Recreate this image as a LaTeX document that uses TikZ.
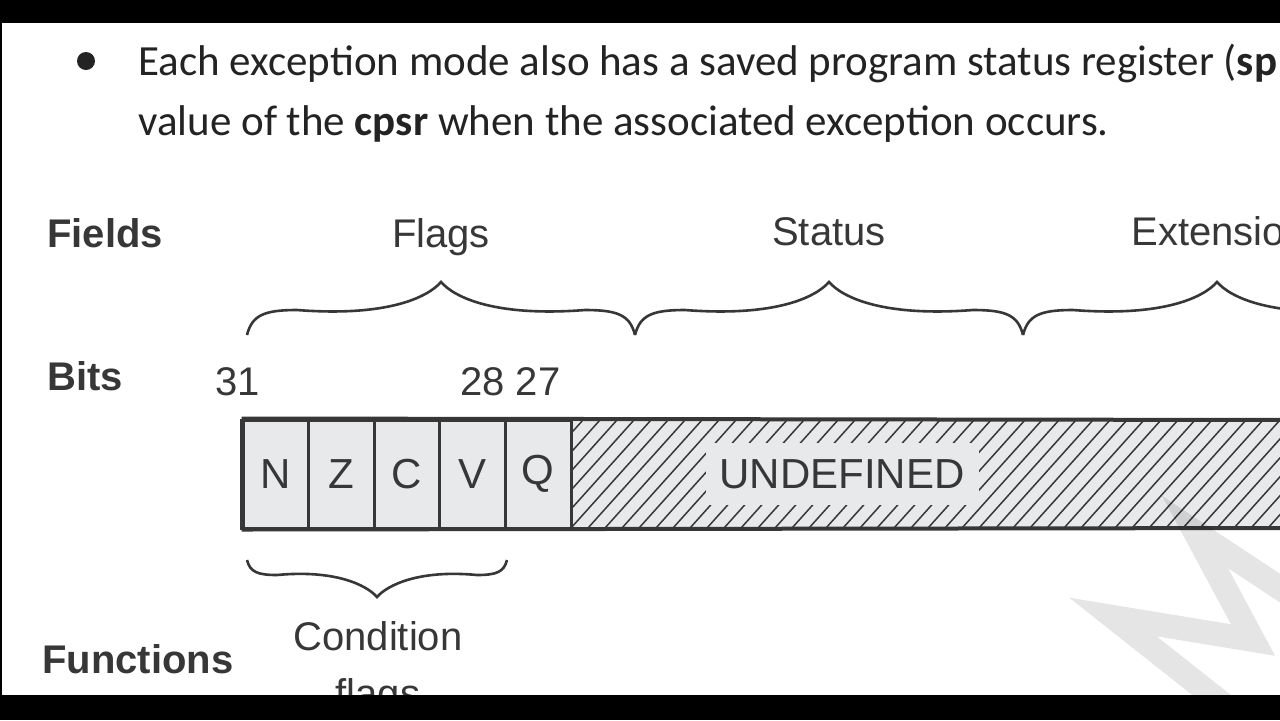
\documentclass[tikz,border=0pt]{standalone}
\usepackage{fontspec}
\setmainfont{Liberation Sans}
\newfontfamily\slidefont{Carlito}
\usetikzlibrary{positioning}
\definecolor{cellgray}{RGB}{232,233,235}
\definecolor{inkgray}{RGB}{55,55,55}
\definecolor{slideink}{RGB}{35,35,35}
\newcommand*{\diagfont}{\fontsize{20}{28.5}\selectfont\color{inkgray}}
\newcommand*{\cellfont}{\fontsize{21}{28.5}\selectfont\color{inkgray}}
\newcommand*{\slidetext}{\slidefont\fontsize{21.5}{30}\selectfont\color{slideink}}
\newcommand{\fieldbrace}[5]{%
   % left x, right x, end y, end-to-flat, flat-to-tip (signed, y grows down)
   \pgfmathsetmacro{\brL}{#1}
   \pgfmathsetmacro{\brR}{#2}
   \pgfmathsetmacro{\brM}{(#1+#2)/2}
   \pgfmathsetmacro{\brE}{#3}
   \pgfmathsetmacro{\brF}{#3+#4}
   \pgfmathsetmacro{\brT}{#3+#4+#5}
   \pgfmathsetmacro{\brWa}{2*abs(#4)}
   \pgfmathsetmacro{\brWb}{1.6*abs(#5)}
   \draw[bracepen] (\brL,\brE)
      .. controls (\brL+0.1*\brWa,\brE+0.8*#4) and (\brL+0.35*\brWa,\brF) .. (\brL+\brWa,\brF)
      .. controls (\brM-1.2*\brWb,\brF-0.25*#5) and (\brM-0.3*\brWb,\brF+0.45*#5) .. (\brM,\brT)
      .. controls (\brM+0.3*\brWb,\brF+0.45*#5) and (\brM+1.2*\brWb,\brF-0.25*#5) .. (\brR-\brWa,\brF)
      .. controls (\brR-0.35*\brWa,\brF) and (\brR-0.1*\brWa,\brE+0.8*#4) .. (\brR,\brE);
}
\tikzset{
   bracepen/.style = {draw=inkgray, line width=1.3pt},
   hatchpen/.style = {draw=inkgray, line width=0.75pt},
   flagcell/.style = {
      draw          = inkgray,
      line width    = 1.5pt,
      fill          = cellgray,
      minimum width = 32.8pt,
      minimum height= 54pt,
      inner sep     = 0pt,
      font          = \cellfont
   },
   rowlabel/.style = {anchor=base west, inner sep=0pt, font=\diagfont\bfseries},
   fieldname/.style = {anchor=base, inner sep=0pt, font=\diagfont},
   watermark/.style = {draw=black, line width=12pt, opacity=0.1}
}

\begin{document}
\begin{tikzpicture}[x=0.5pt, y=-0.5pt]
   \useasboundingbox (0,0) rectangle (1280,720);
   \fill[white] (0,0) rectangle (1280,720);

   % slide text
   \fill[slideink] (86,61) circle (4.5pt);
   \node[anchor=base west, inner sep=0pt, font=\slidetext] (line1) at (138,75)
      {Each exception mode also has a saved program status register (\textbf{sp}};
   \node[anchor=base west, inner sep=0pt, font=\slidetext] (line2) at (138,135)
      {value of the \textbf{cpsr} when the associated exception occurs.};

   % row labels
   \node[rowlabel] (fields) at (47,247) {Fields};
   \node[rowlabel] (bits)   at (47,390) {Bits};
   \node[rowlabel] (funcs)  at (42,673) {Functions};

   % field names and braces
   \node[fieldname] (flags)  at (441,247) {Flags};
   \node[fieldname] (status) at (829,245) {Status};
   \node[fieldname, anchor=base west] (ext) at (1131,245) {Extensio};
   \fieldbrace{247}{635}{335}{-25}{-28}
   \fieldbrace{635}{1023}{335}{-25}{-28}
   \fieldbrace{1023}{1411}{335}{-25}{-28}

   % bit numbers
   \node[fieldname] (b31) at (238,395) {31};
   \node[fieldname] (b28) at (483,395) {28};
   \node[fieldname] (b27) at (538,395) {27};

   % undefined part
   \begin{scope}
      \clip (571,420) rectangle (1300,528);
      \fill[cellgray] (571,420) rectangle (1300,528);
      \foreach \hx in {452,469,...,1300}
         \draw[hatchpen] (\hx,528) -- ++(97,-108);
   \end{scope}
   \node[fill=cellgray, inner xsep=7pt, inner ysep=8pt, font=\cellfont] (undef) at (842,474) {UNDEFINED};

   % flag bits
   \foreach \flag [count=\i] in {N,Z,C,V,Q}
      \node[flagcell] (flag\i) at ({243+65.6*(\i-0.5)},474) {\flag};
   \draw[inkgray, line width=2pt] (flag1.north west) -- (1300,420);
   \draw[inkgray, line width=2pt] (flag1.south west) -- (1300,528);
   \draw[inkgray, line width=2pt] (flag1.north west) -- (flag1.south west);

   % condition flags
   \fieldbrace{247}{507}{560}{15}{22}
   \node[anchor=north, inner sep=0pt, align=center, font=\diagfont] (cond) at (378,621)
      {Condition\\flags};

   % watermark
   \draw[watermark] (1228,708) -- (1113,617) -- (1253,640) -- (1195,532) -- (1295,598);

   % frame
   \fill[black] (0,0) rectangle (1280,23);
   \fill[black] (0,695) rectangle (1280,720);
   \fill[black] (0,23) rectangle (2,695);
\end{tikzpicture}
\end{document}
